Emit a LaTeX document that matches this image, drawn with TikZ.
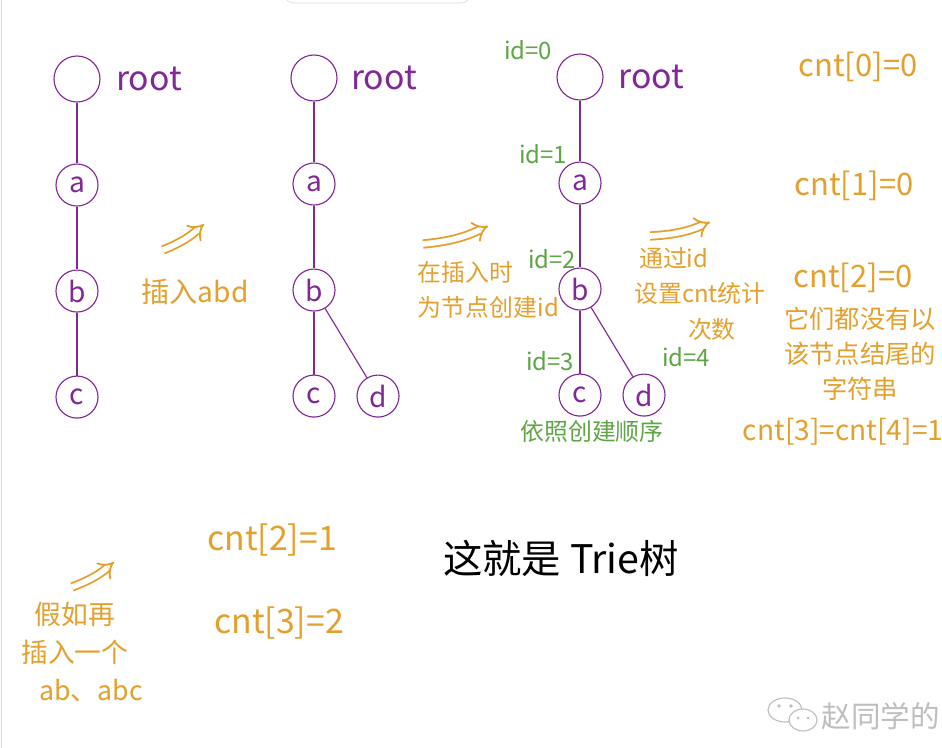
\documentclass[tikz,border=0pt]{standalone}
\usepackage{fontspec}
\setmainfont{Noto Sans CJK SC}
\usetikzlibrary{arrows.meta}
\definecolor{triepurple}{RGB}{128,40,150}
\definecolor{penorange}{RGB}{228,160,45}
\definecolor{pengreen}{RGB}{95,165,70}
\definecolor{markgrey}{RGB}{190,190,190}
\tikzstyle{trienode} = [circle, draw=triepurple, thick, text=triepurple,
    minimum size=1.05cm, inner sep=0pt, font=\fontsize{20}{22}\selectfont]
\tikzstyle{rootnode} = [trienode, minimum size=1.15cm]
\tikzstyle{line} = [draw=triepurple, thick]
\tikzstyle{rootlabel} = [text=triepurple, font=\fontsize{24}{26}\selectfont]
\tikzstyle{note} = [text=penorange, font=\fontsize{17}{25}\selectfont, align=left]
\tikzstyle{cnt} = [text=penorange, font=\fontsize{22}{24}\selectfont]
\tikzstyle{idlabel} = [text=pengreen, font=\fontsize{17}{20}\selectfont]
\tikzstyle{pen} = [draw=penorange, line width=1.3pt, double, double distance=4pt,
    -{Implies[length=4pt]}]

\begin{document}
\begin{tikzpicture}[x=0.025cm, y=-0.025cm, node distance=2.65cm]
    \useasboundingbox (0,0) rectangle (942,748);
    \fill [white] (0,0) rectangle (942,748);
    \draw [markgrey!60] (1,0) -- (1,748);
    \draw [markgrey!60, rounded corners=6] (285,-10) -- (285,3) -- (470,3) -- (470,-10);

    % Place first trie
    \node [rootnode] (r1) at (77,79) {};
    \node [trienode, below of=r1] (a1) {a};
    \node [trienode, below of=a1] (b1) {b};
    \node [trienode, below of=b1] (c1) {c};
    \node [rootlabel, right of=r1, node distance=1.8cm] (t1) {root};

    % Place second trie
    \node [rootnode] (r2) at (314,78) {};
    \node [trienode, below of=r2] (a2) {a};
    \node [trienode, below of=a2] (b2) {b};
    \node [trienode, below of=b2] (c2) {c};
    \node [trienode, right of=c2, node distance=1.6cm] (d2) {d};
    \node [rootlabel, right of=r2, node distance=1.75cm] (t2) {root};

    % Place third trie
    \node [rootnode] (r3) at (580,77) {};
    \node [trienode, below of=r3] (a3) {a};
    \node [trienode, below of=a3] (b3) {b};
    \node [trienode, below of=b3] (c3) {c};
    \node [trienode, right of=c3, node distance=1.6cm] (d3) {d};
    \node [rootlabel, right of=r3, node distance=1.78cm] (t3) {root};

    % Draw edges
    \path [line] (r1) -- (a1);
    \path [line] (a1) -- (b1);
    \path [line] (b1) -- (c1);
    \path [line] (r2) -- (a2);
    \path [line] (a2) -- (b2);
    \path [line] (b2) -- (c2);
    \path [line] (b2) -- (d2);
    \path [line] (r3) -- (a3);
    \path [line] (a3) -- (b3);
    \path [line] (b3) -- (c3);
    \path [line] (b3) -- (d3);

    % Place ids
    \node [idlabel] (id0) at (528,50) {id=0};
    \node [idlabel] (id1) at (543,154) {id=1};
    \node [idlabel] (id2) at (552,259) {id=2};
    \node [idlabel] (id3) at (550,361) {id=3};
    \node [idlabel] (id4) at (686,357) {id=4};
    \node [idlabel] (order) at (592,431) {依照创建顺序};

    % Place notes
    \node [note, font=\fontsize{20}{22}\selectfont] (ins) at (195,292) {插入abd};
    \node [note, anchor=west] (create) at (413,290) {在插入时\\为节点创建id};
    \node [note, align=center] (setcnt) at (700,294) {\hspace*{-2.2em}通过id\\设置cnt统计\\\hspace*{1em}次数};
    \node [cnt] (cnt0) at (858,67) {cnt[0]=0};
    \node [cnt] (cnt1) at (854,186) {cnt[1]=0};
    \node [cnt] (cnt2) at (853,278) {cnt[2]=0};
    \node [note, align=center, font=\fontsize{18}{25}\selectfont] (nostr) at (860,354) {它们都没有以\\该节点结尾的\\字符串};
    \node [cnt, anchor=west, font=\fontsize{20}{22}\selectfont] (cnt34) at (738,432) {cnt[3]=cnt[4]=1};
    \node [cnt, font=\fontsize{24}{26}\selectfont] (cnt2b) at (272,540) {cnt[2]=1};
    \node [cnt, font=\fontsize{24}{26}\selectfont] (cnt3b) at (279,623) {cnt[3]=2};
    \node [note, align=center, font=\fontsize{19}{27}\selectfont] (again) at (75,652) {假如再\\插入一个\\\hspace*{1.2em}ab、abc};
    \node [font=\fontsize{28}{30}\selectfont] (title) at (561,558) {这就是 Trie树};

    % Draw pen arrows
    \coordinate (p1a) at (163,250);
    \coordinate (p1b) at (204,224);
    \coordinate (p2a) at (423,244);
    \coordinate (p2b) at (488,226);
    \coordinate (p3a) at (650,236);
    \coordinate (p3b) at (710,222);
    \coordinate (p4a) at (72,587);
    \coordinate (p4b) at (114,562);
    \draw [pen] (p1a) to[bend right=10] (p1b);
    \draw [pen] (p2a) to[bend right=10] (p2b);
    \draw [pen] (p3a) to[bend right=10] (p3b);
    \draw [pen] (p4a) to[bend right=10] (p4b);

    % Watermark
    \draw [markgrey, thick] (785,710) ellipse (17 and 12);
    \draw [markgrey, thick, fill=white] (803,720) ellipse (14 and 11);
    \fill [markgrey] (779,706) circle (1.8) (791,706) circle (1.8) (798,718) circle (1.5) (808,718) circle (1.5);
    \node [text=markgrey, anchor=west, inner sep=1pt, font=\fontsize{21}{24}\selectfont] (mark) at (820,716) {赵同学的};
\end{tikzpicture}
\end{document}
